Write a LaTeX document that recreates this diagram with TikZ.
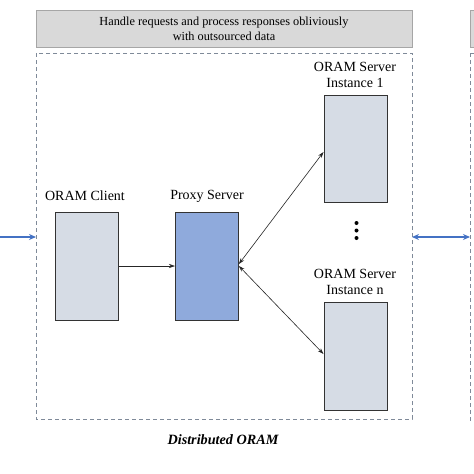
\documentclass[tikz,border=0pt]{standalone}
\usepackage{fontspec}
\setmainfont{Liberation Serif}
\usetikzlibrary{arrows.meta}
\definecolor{boxgray}{HTML}{D9D9D9}
\definecolor{boxedge}{HTML}{A6A6A6}
\definecolor{srvfill}{HTML}{D6DCE5}
\definecolor{proxyfill}{HTML}{8FAADC}
\definecolor{linkblue}{HTML}{4472C4}
\definecolor{dashgray}{HTML}{7F8A99}
\tikzset{
  titlebox/.style={draw=boxedge,fill=boxgray,line width=0.8pt},
  groupbox/.style={draw=dashgray,dash pattern=on 4pt off 3pt,line width=1pt},
  srvbox/.style={draw=black!80,fill=srvfill,line width=0.9pt,minimum width=63pt,inner sep=0pt},
  proxybox/.style={draw=black!80,fill=proxyfill,line width=0.9pt,minimum width=63pt,inner sep=0pt},
  lbl/.style={font=\fontsize{14}{16.6}\selectfont,align=center,inner sep=0pt},
  conn/.style={-{Stealth[length=6pt,width=4pt]},line width=0.6pt,black!85},
  bconn/.style={{Stealth[length=6pt,width=4pt]}-{Stealth[length=6pt,width=4pt]},line width=0.6pt,black!85},
  blueconn/.style={-{Stealth[length=7pt,width=6pt]},line width=1.6pt,linkblue},
  bblueconn/.style={{Stealth[length=7pt,width=6pt]}-{Stealth[length=7pt,width=6pt]},line width=1.6pt,linkblue},
}
\begin{document}
\begin{tikzpicture}[x=1pt,y=-1pt]
\useasboundingbox[fill=white] (0,0) rectangle (474,474);
% title box
\draw[titlebox] (36,10) rectangle (412,47);
\node[font=\fontsize{12.3}{14.6}\selectfont,align=center,inner sep=0pt] (title) at (224,29) {Handle requests and process responses obliviously\\with outsourced data};
\draw[titlebox] (470,10) rectangle (480,47);
% group boxes
\draw[groupbox] (36,53) rectangle (412,419);
\draw[groupbox] (470,53) -- (470,420) -- (480,420);
\draw[groupbox] (470,53) -- (480,53);
\coordinate (leftin) at (0,237);
\coordinate (grpl) at (36,237);
\coordinate (grpr) at (412,237);
\coordinate (nextl) at (470,237);
\node[font=\bfseries\itshape\fontsize{14.2}{16}\selectfont,inner sep=0pt] (dlabel) at (223,440) {Distributed ORAM};
% nodes
\node[srvbox,minimum height=108pt,anchor=north west] (client) at (55,212) {};
\node[lbl] (clientl) at (85,196) {ORAM Client};
\node[proxybox,minimum height=108pt,anchor=north west] (proxy) at (175,212) {};
\node[lbl] (proxyl) at (207,196) {Proxy Server};
\node[srvbox,minimum height=107pt,anchor=north west] (s1) at (323.5,95) {};
\node[lbl] (s1l) at (355,75) {ORAM Server\\Instance 1};
\node[srvbox,minimum height=108pt,anchor=north west] (sn) at (323.5,302) {};
\node[lbl] (snl) at (355,282) {ORAM Server\\Instance n};
\foreach \yy/\nm in {223/d1,230.5/d2,238/d3}
  \fill (356.5,\yy) circle (2pt) node (\nm) {};
% connectors
\draw[conn] (client.east |- 0,266) -- (proxy.west |- 0,266);
\draw[bconn] (proxy.east |- 0,264) -- (s1.west |- 0,152);
\draw[bconn] (proxy.east |- 0,266) -- (sn.west |- 0,354);
\draw[blueconn] (leftin) -- (grpl);
\draw[bblueconn] (grpr) -- (nextl);
\end{tikzpicture}
\end{document}
